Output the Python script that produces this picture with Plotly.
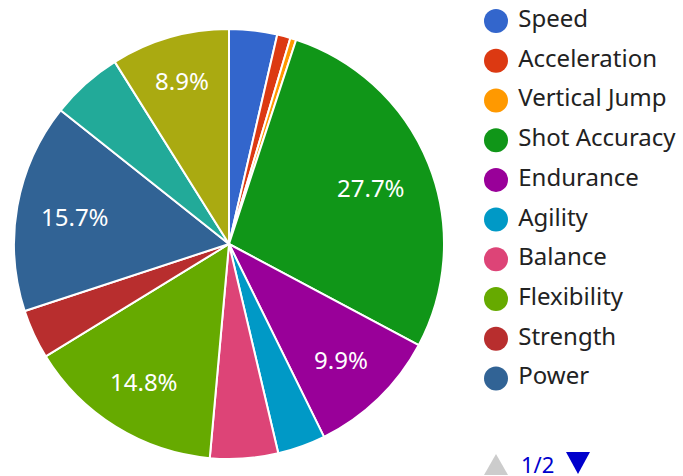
import math
import plotly.graph_objects as go

labels = ["Speed", "Acceleration", "Vertical Jump", "Shot Accuracy", "Endurance",
          "Agility", "Balance", "Flexibility", "Strength", "Power",
          "Coordination", "Reaction Time"]
values = [3.6, 1.0, 0.45, 27.7, 9.9, 3.6, 5.1, 14.8, 3.7, 15.7, 5.4, 8.9]
colors = ["#3366cc", "#dc3912", "#ff9900", "#109618", "#990099", "#0099c6",
          "#dd4477", "#66aa00", "#b82e2e", "#316395", "#22aa99", "#aaaa11"]
legend_page = 10  # items shown on page 1 of the legend
page_label = "1/2"

W, H = 683, 476
FONT = "Noto Sans"

# pie geometry (pixels)
CX, CY, R = 229, 244, 215
dom_x = [(CX - R) / W, (CX + R) / W]
dom_y = [1 - (CY + R) / H, 1 - (CY - R) / H]

fig = go.Figure()
fig.add_trace(go.Pie(
    labels=labels, values=values, sort=False, direction="clockwise", rotation=0,
    marker=dict(colors=colors, line=dict(color="white", width=2)),
    textinfo="none", domain=dict(x=dom_x, y=dom_y),
    showlegend=False, hoverinfo="label+percent",
))

# slice labels placed at each slice's mid-angle
label_radius = [0.78, 0.78, 0.78, 0.71, 0.75, 0.78, 0.78, 0.75, 0.78, 0.73, 0.78, 0.79]
total = sum(values)
cum = 0.0
for lab, v, rf in zip(labels, values, label_radius):
    mid = (cum + v / 2) / total * 2 * math.pi
    cum += v
    if v / total < 0.08:
        continue
    px = CX + rf * R * math.sin(mid)
    py = CY - rf * R * math.cos(mid)
    fig.add_annotation(x=px / W, y=1 - py / H, xref="paper", yref="paper",
                       xanchor="center", yanchor="middle",
                       text=f"{v / total * 100:.1f}%", showarrow=False,
                       font=dict(family=FONT, size=24, color="white"))

# custom legend (page 1) drawn as a scatter on hidden axes
ROW0, ROW = 21, 39.72  # first row centre and row pitch in pixels
idx = list(range(legend_page))
fig.add_trace(go.Scatter(
    x=[0] * legend_page, y=idx, mode="markers+text",
    marker=dict(size=24, color=colors[:legend_page], line=dict(width=0)),
    text=[" " + l for l in labels[:legend_page]], textposition="middle right",
    textfont=dict(family=FONT, size=24, color="#222222"),
    showlegend=False, hoverinfo="skip", cliponaxis=False,
))


def row_of(py):
    return (py - ROW0) / ROW


def tri_path(pts):
    return "M " + " L ".join(f"{x},{row_of(y)}" for x, y in pts) + " Z"


# pagination arrows (x in pixels relative to the legend marker column)
fig.add_shape(type="path", xref="x", yref="y", line=dict(width=0),
              fillcolor="#cccccc", path=tri_path([(-12, 475), (12, 475), (0, 454)]))
fig.add_shape(type="path", xref="x", yref="y", line=dict(width=0),
              fillcolor="#0000cc", path=tri_path([(70, 452), (94, 452), (82, 474)]))
fig.add_annotation(x=41, y=row_of(464), xref="x", yref="y", text=page_label,
                   showarrow=False, font=dict(family=FONT, size=22, color="#0000cc"))

fig.update_xaxes(visible=False, range=[-496, W - 496], domain=[0, 1], fixedrange=True)
fig.update_yaxes(visible=False, range=[row_of(H), row_of(0)], domain=[0, 1], fixedrange=True)

fig.update_layout(
    width=W, height=H, margin=dict(l=0, r=0, t=0, b=0),
    paper_bgcolor="white", plot_bgcolor="rgba(0,0,0,0)",
    font=dict(family=FONT), showlegend=False,
)
fig.write_html("out.html", config={"displayModeBar": False},
               post_script="document.body.style.margin='0';document.body.style.overflow='hidden';")
